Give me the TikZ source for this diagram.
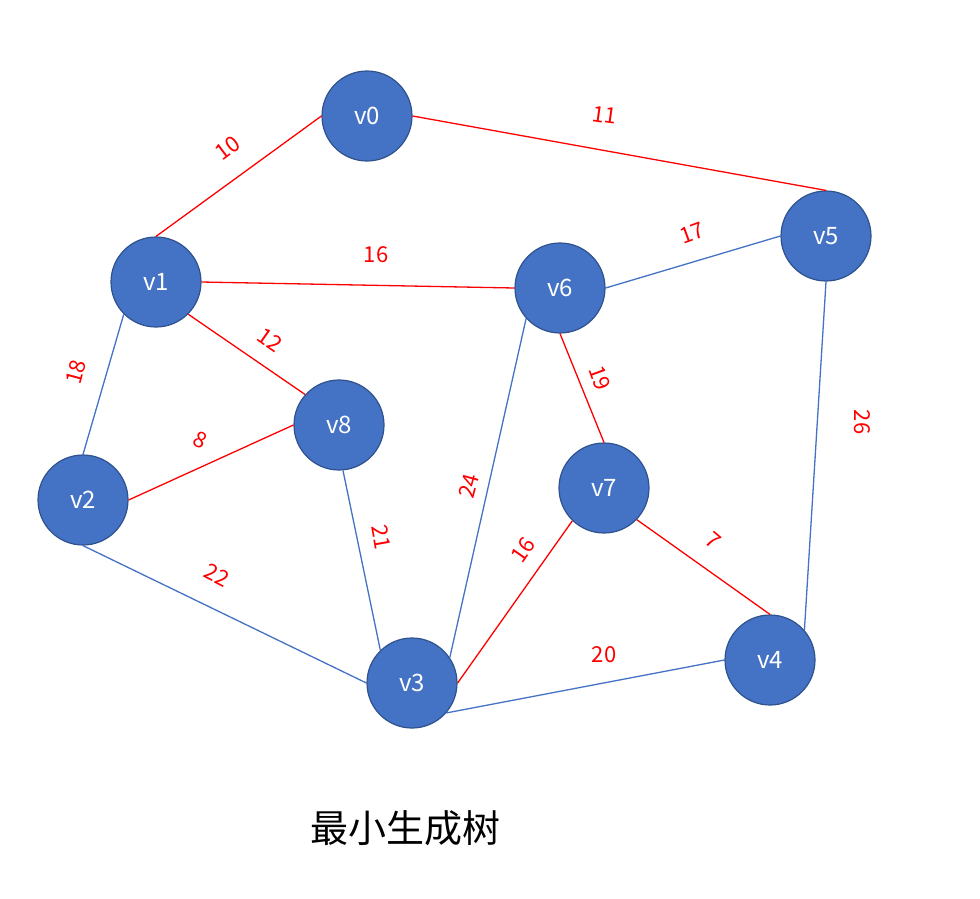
\documentclass[tikz,border=0pt]{standalone}
\usepackage{fontspec}
\setmainfont{Noto Sans CJK SC}
\begin{document}
\begin{tikzpicture}[x=1pt,y=-1pt,
  vtx/.style={circle,fill={rgb,255:red,68;green,114;blue,196},draw={rgb,255:red,47;green,82;blue,143},line width=1.2pt,minimum size=90pt,inner sep=0pt,text=white,font=\fontsize{24}{28}\selectfont},
  tree/.style={draw=red,line width=1.3pt},
  other/.style={draw={rgb,255:red,68;green,114;blue,196},line width=1.3pt},
  wt/.style={text=red,font=\fontsize{22}{26}\selectfont,inner sep=0pt}]
\useasboundingbox (0,0) rectangle (980,898);
\node[vtx] (v0) at (367,116) {v0};
\node[vtx] (v1) at (156,282) {v1};
\node[vtx] (v2) at (83,500) {v2};
\node[vtx] (v8) at (339,425) {v8};
\node[vtx] (v6) at (560,288) {v6};
\node[vtx] (v5) at (826,236) {v5};
\node[vtx] (v7) at (604,488) {v7};
\node[vtx] (v4) at (770,660) {v4};
\node[vtx] (v3) at (412,683) {v3};
\draw[tree] (v1.north) -- (v0.west);
\draw[tree] (v0.east) -- (v5.north);
\draw[tree] (v1.east) -- (v6.west);
\draw[other] (v6.east) -- (v5.west);
\draw[tree] (v1.-45) -- (v8.138);
\draw[other] (v1.225) -- (v2.north);
\draw[tree] (v2.east) -- (v8.west);
\draw[other] (v8.-85) -- (v3.134);
\draw[other] (v6.222) -- (v3.34);
\draw[tree] (v6.south) -- (v7.north);
\draw[other] (v5.south) -- (v4.41);
\draw[tree] (v7.226) -- (v3.east);
\draw[tree] (v7.-44) -- (v4.north);
\draw[other] (v2.south) -- (v3.west);
\draw[other] (v3.-41) -- (v4.west);
\node[wt,rotate=37] (l10) at (228,148) {10};
\node[wt,rotate=-8] (l11) at (605,115) {11};
\node[wt] (l16a) at (376,255) {16};
\node[wt,rotate=20] (l17) at (692,233) {17};
\node[wt,rotate=-35] (l12) at (270,340) {12};
\node[wt,rotate=75] (l18) at (76,372) {18};
\node[wt,rotate=-25] (l8) at (200,440) {8};
\node[wt,rotate=-80] (l21) at (381,537) {21};
\node[wt,rotate=75] (l24) at (469,486) {24};
\node[wt,rotate=-70] (l19) at (600,378) {19};
\node[wt,rotate=-90] (l26) at (862,422) {26};
\node[wt,rotate=55] (l16b) at (523,550) {16};
\node[wt,rotate=-40] (l7) at (713,540) {7};
\node[wt,rotate=-27] (l22) at (217,575) {22};
\node[wt] (l20) at (604,655) {20};
\node[font=\fontsize{38}{42}\selectfont] (title) at (405,828) {最小生成树};
\end{tikzpicture}
\end{document}
